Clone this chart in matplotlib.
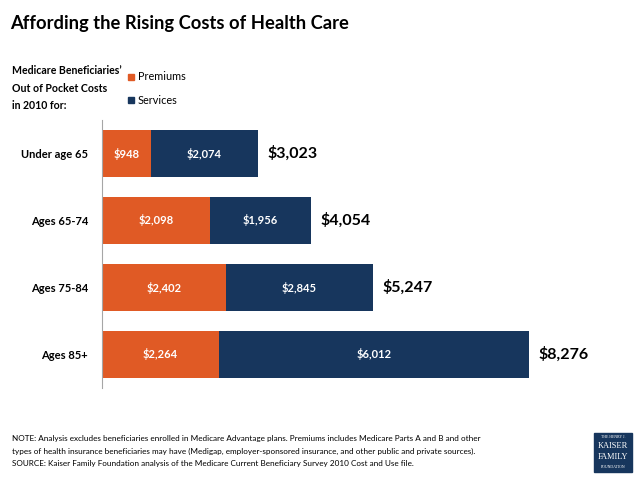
import matplotlib.pyplot as plt
from matplotlib.patches import Rectangle

plt.rcParams['font.family'] = ['Lato', 'DejaVu Sans']

categories = ['Under age 65', 'Ages 65-74', 'Ages 75-84', 'Ages 85+']
premiums = [948, 2098, 2402, 2264]
services = [2074, 1956, 2845, 6012]
totals = ['$3,023', '$4,054', '$5,247', '$8,276']

orange = '#E05A25'
navy = '#17365D'

fig = plt.figure(figsize=(6.38, 4.78), dpi=100)
ax = fig.add_axes([102 / 638, 1 - 388 / 478, 518 / 638, 268 / 478])

y = list(range(len(categories)))
ax.barh(y, premiums, height=0.7, color=orange)
ax.barh(y, services, left=premiums, height=0.7, color=navy)

for i in y:
    p, s = premiums[i], services[i]
    ax.text(p / 2, i, f'${p:,}', ha='center', va='center', color='white',
            fontsize=8, fontweight='bold')
    ax.text(p + s / 2, i, f'${s:,}', ha='center', va='center', color='white',
            fontsize=8, fontweight='bold')
    ax.text(p + s + 180, i, totals[i], ha='left', va='center', color='black',
            fontsize=11.5, fontweight='bold')

ax.set_xlim(0, 10040)
ax.set_ylim(3.5, -0.5)
ax.set_yticks(y)
ax.set_yticklabels(categories, fontsize=8, fontweight='bold')
ax.tick_params(axis='y', length=0, pad=10)
ax.set_xticks([])
for side in ['top', 'right', 'bottom']:
    ax.spines[side].set_visible(False)
ax.spines['left'].set_color('#A6A6A6')

fig.text(10 / 638, 1 - 23 / 478, 'Affording the Rising Costs of Health Care',
         fontsize=13.2, fontweight='bold', va='center')

fig.text(12 / 638, 1 - 88 / 478,
         'Medicare Beneficiaries\u2019\nOut of Pocket Costs\nin 2010 for:',
         fontsize=7.6, fontweight='bold', va='center', linespacing=1.75)

for lab, col, yy in [('Premiums', orange, 77), ('Services', navy, 100)]:
    fig.patches.append(Rectangle((128 / 638, 1 - (yy + 3) / 478), 6 / 638, 6 / 478,
                                 transform=fig.transFigure, color=col))
    fig.text(138 / 638, 1 - yy / 478, lab, fontsize=7.8, va='center')

note = ('NOTE: Analysis excludes beneficiaries enrolled in Medicare Advantage plans. '
        'Premiums includes Medicare Parts A and B and other\n'
        'types of health insurance beneficiaries may have (Medigap, employer-sponsored '
        'insurance, and other public and private sources).\n'
        'SOURCE: Kaiser Family Foundation analysis of the Medicare Current Beneficiary '
        'Survey 2010 Cost and Use file.')
fig.text(12 / 638, 1 - 451 / 478, note, fontsize=5.9, va='center', linespacing=1.95)

fig.patches.append(Rectangle((594 / 638, 1 - 472 / 478), 38 / 638, 39 / 478,
                             transform=fig.transFigure, color=navy))
fig.text(613 / 638, 1 - 437 / 478, 'THE HENRY J.', fontsize=2.8, color='white',
         ha='center', va='center', family='Liberation Serif')
fig.text(613 / 638, 1 - 446 / 478, 'KAISER', fontsize=6, color='white',
         ha='center', va='center', family='Liberation Serif')
fig.text(613 / 638, 1 - 457 / 478, 'FAMILY', fontsize=6, color='white',
         ha='center', va='center', family='Liberation Serif')
fig.text(613 / 638, 1 - 467 / 478, 'FOUNDATION', fontsize=2.8, color='white',
         ha='center', va='center', family='Liberation Serif')

fig.savefig('out.png', dpi=100)
